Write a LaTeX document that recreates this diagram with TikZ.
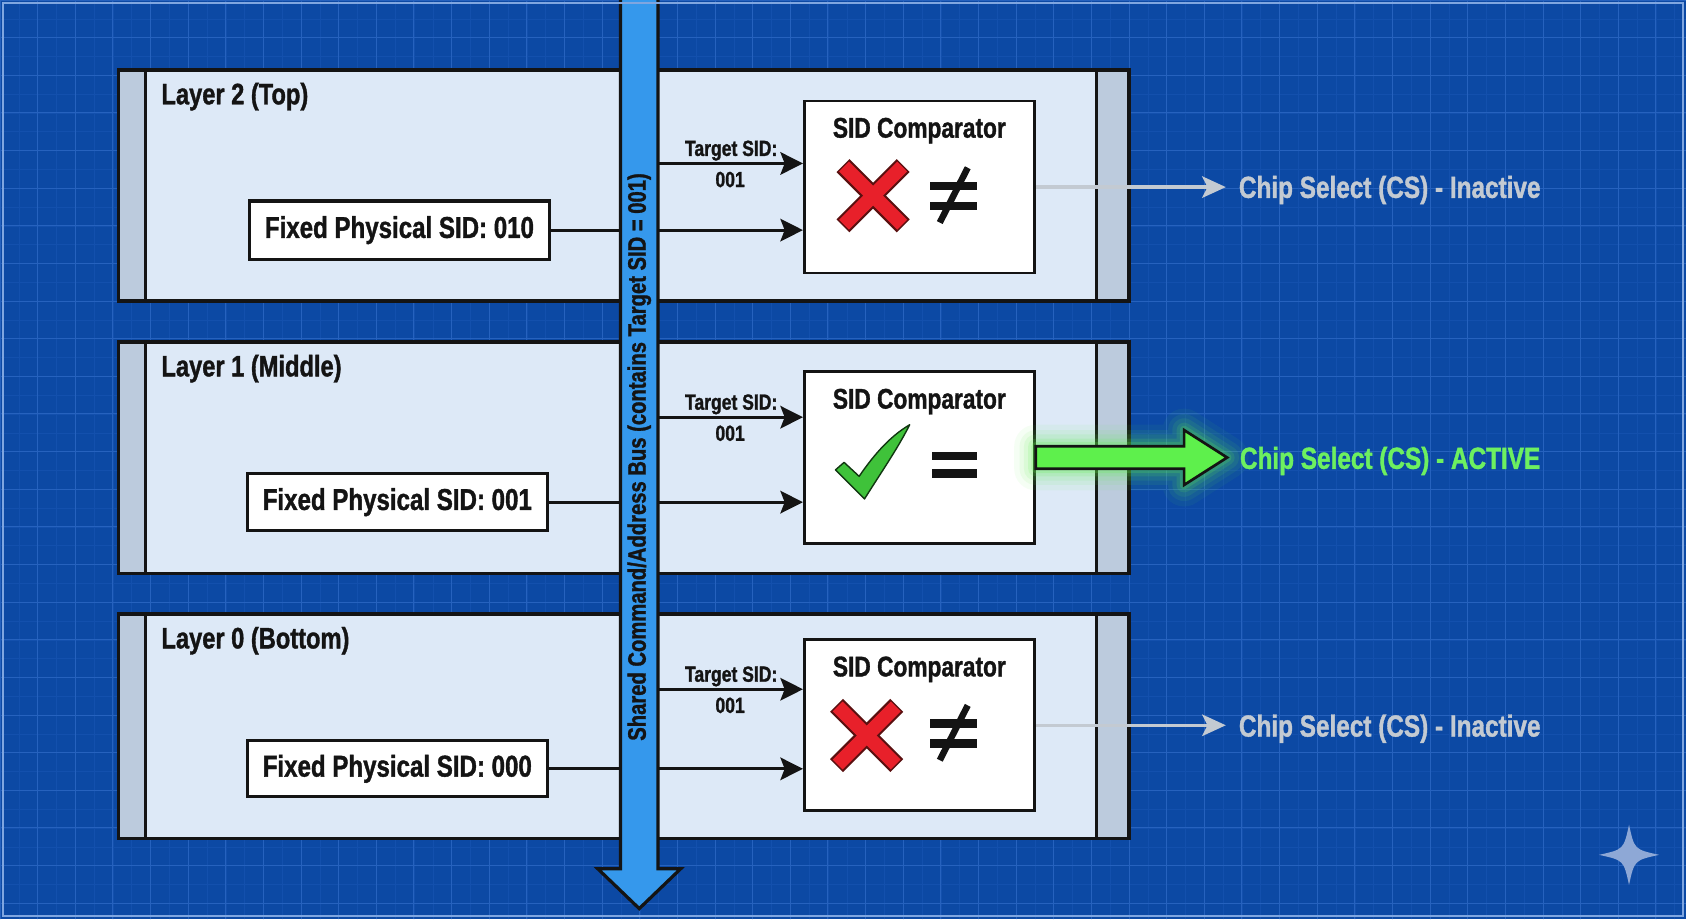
\documentclass[tikz,border=0pt]{standalone}
\usepackage{fontspec}
\setmainfont{Liberation Sans}[FakeStretch=0.8, BoldFeatures={FakeBold=1.2}]
\usetikzlibrary{arrows.meta,fit}
\definecolor{bgblue}{HTML}{0C49A4}
\definecolor{gridminor}{HTML}{1350AD}
\definecolor{gridmajor}{HTML}{2662BE}
\definecolor{framecol}{HTML}{7FA6E0}
\definecolor{layerfill}{HTML}{DDE9F7}
\definecolor{stripecol}{HTML}{BCCBDD}
\definecolor{busfill}{HTML}{3598EC}
\definecolor{ink}{HTML}{141414}
\definecolor{offgray}{HTML}{C3CAD2}
\definecolor{onGreen}{HTML}{5EF04C}
\definecolor{onText}{HTML}{6DF060}
\definecolor{xred}{HTML}{E8202A}
\definecolor{xdark}{HTML}{5A1010}
\definecolor{tickgreen}{HTML}{3FC23A}
\definecolor{starcol}{HTML}{8EA8D6}

\newcommand\chiplayer[4]{%
  \node[layerbg, fit={(110,#2) (1050,#3)}] (#1) {};
  \fill[stripe] (110,#2) rectangle (135,#3);
  \fill[stripe] (1020,#2) rectangle (1050,#3);
  \draw[heavy] (135,#2) -- (135,#3) (1020,#2) -- (1020,#3);
  \draw[heavy] (#1.north west) rectangle (#1.south east);
  \node[ltitle, anchor=base west] (#1t) at (150,#2+32) {#4};
}
\newcommand\redcross{%
  \draw[line width=17pt, color=xdark] (-28,-28) -- (28,28);
  \draw[line width=17pt, color=xdark] (28,-28) -- (-28,28);
  \draw[line width=13pt, color=xred, shorten <=1.4pt, shorten >=1.4pt] (-28,-28) -- (28,28);
  \draw[line width=13pt, color=xred, shorten <=1.4pt, shorten >=1.4pt] (28,-28) -- (-28,28);
}
\newcommand\neqsign{%
  \fill[ink] (-22,-13.2) rectangle (22,-5.4);
  \fill[ink] (-22,5.4) rectangle (22,13.2);
  \draw[ink, line width=6pt] (13,-26) -- (-13,25);
}
\newcommand\eqsign{%
  \fill[ink] (-21,-12) rectangle (21,-4);
  \fill[ink] (-21,4) rectangle (21,12.5);
}
\newcommand\greentick{%
  \filldraw[fill=tickgreen, draw=ink!85!green, line width=1.3pt, line join=round]
    (-35,7) -- (-27,0) -- (-13,13) .. controls (2,-9) and (17,-25) .. (34,-35)
    .. controls (23,-13) and (7,10) .. (-8,34) -- cycle;
}
\newcommand\greenpath{(0,-10.5) -- (138,-10.5) -- (138,-25.5) -- (178,0) -- (138,25.5) -- (138,10.5) -- (0,10.5) -- cycle}

\begin{document}
\begin{tikzpicture}[x=1pt,y=-1pt,
  layerbg/.style={fill=layerfill, inner sep=0pt, outer sep=0pt},
  stripe/.style={fill=stripecol},
  heavy/.style={draw=ink, line width=3pt},
  ltitle/.style={font=\fontsize{27.5}{32}\selectfont\bfseries, text=ink, inner sep=0pt},
  fixbox/.style={draw=ink, line width=3pt, fill=white, minimum width=279pt, minimum height=53pt, inner sep=0pt, font=\fontsize{28}{32}\selectfont\bfseries, text=ink},
  compbox/.style={draw=ink, line width=2.5pt, fill=white, minimum width=214pt, minimum height=160pt, inner sep=0pt},
  ctitle/.style={font=\fontsize{26.4}{30}\selectfont\bfseries, text=ink, inner sep=0pt},
  tlabel/.style={font=\fontsize{20.4}{24}\selectfont\bfseries, text=ink, inner sep=0pt},
  conn/.style={draw=ink, line width=2.6pt, -{Stealth[length=21pt,width=21pt,inset=4pt]}},
  offarrow/.style={draw=offgray, line width=3pt, -{Stealth[length=22pt,width=20pt,inset=5pt]}},
  cstext/.style={font=\fontsize{28.3}{32}\selectfont\bfseries, inner sep=0pt},
  bustext/.style={font=\fontsize{23.5}{28}\selectfont\bfseries, text=ink, inner sep=0pt, rotate=90}]

\useasboundingbox (0,0) rectangle (1568,855);
% background and grid
\fill[bgblue] (0,0) rectangle (1568,855);
\draw[gridminor, line width=0.5pt, step=17.5pt] (0,0) grid (1568,855);
\draw[gridmajor, line width=0.9pt, step=35pt] (0,0) grid (1568,855);

% layers
\chiplayer{L2}{65}{280}{Layer 2 (Top)}
\chiplayer{L1}{318}{533}{Layer 1 (Middle)}
\chiplayer{L0}{571}{780}{Layer 0 (Bottom)}

% fixed SID boxes
\node[fixbox, minimum height=54pt] (F2) at (371.5,214) {Fixed Physical SID: 010};
\node[fixbox] (F1) at (369.5,467) {Fixed Physical SID: 001};
\node[fixbox, minimum height=52pt] (F0) at (369.5,715) {Fixed Physical SID: 000};

% comparators
\node[compbox] (C2) at (855,174) {};
\node[compbox] (C1) at (855,425.5) {};
\node[compbox, minimum height=159pt] (C0) at (855,674.5) {};
\node[ctitle, anchor=base] (C2t) at (855,128) {SID Comparator};
\node[ctitle, anchor=base] (C1t) at (855,380) {SID Comparator};
\node[ctitle, anchor=base] (C0t) at (855,629) {SID Comparator};

% fixed -> comparator
\draw[conn] (F2.east) -- (F2.east -| C2.west);
\draw[conn] (F1.east) -- (F1.east -| C1.west);
\draw[conn] (F0.east) -- (F0.east -| C0.west);

% symbols
\begin{scope}[shift={(C2.center)}]
  \begin{scope}[shift={(-43,8)}]\redcross\end{scope}
  \begin{scope}[shift={(32,8)}]\neqsign\end{scope}
\end{scope}
\begin{scope}[shift={(C1.center)}]
  \begin{scope}[shift={(-43,4.5)}]\greentick\end{scope}
  \begin{scope}[shift={(33,6.5)}]\eqsign\end{scope}
\end{scope}
\begin{scope}[shift={(C0.center)}]
  \begin{scope}[shift={(-49,9.5)}]\redcross\end{scope}
  \begin{scope}[shift={(32,7.5)}]\neqsign\end{scope}
\end{scope}

% bus
\fill[busfill] (577,0) -- (577,808) -- (556,808) -- (594.5,845) -- (633,808) -- (612,808) -- (612,0) -- cycle;
\draw[ink, line width=3pt, line join=miter] (577,0) -- (577,808) -- (556,808) -- (594.5,845) -- (633,808) -- (612,808) -- (612,0);
\node[bustext] (BUS) at (594.5,425) {Shared Command/Address Bus (contains Target SID = 001)};

% target SID arrows from bus
\coordinate (T2) at (612,152);
\coordinate (T1) at (612,388);
\coordinate (T0) at (612,641);
\draw[conn] (T2) -- (T2 -| C2.west);
\draw[conn] (T1) -- (T1 -| C1.west);
\draw[conn] (T0) -- (T0 -| C0.west);
\node[tlabel, anchor=base] (T2a) at (680,145) {Target SID:};
\node[tlabel, anchor=base] (T2b) at (679,174) {001};
\node[tlabel, anchor=base] (T1a) at (680,381) {Target SID:};
\node[tlabel, anchor=base] (T1b) at (679,410) {001};
\node[tlabel, anchor=base] (T0a) at (680,634) {Target SID:};
\node[tlabel, anchor=base] (T0b) at (679,663) {001};

% outputs
\node[cstext, text=offgray, anchor=base west] (CS2) at (1152,184) {Chip Select (CS) - Inactive};
\node[cstext, text=offgray, anchor=base west] (CS0) at (1152,685) {Chip Select (CS) - Inactive};
\draw[offarrow, shorten >=12pt] (C2.east) -- (C2.east -| CS2.west);
\draw[offarrow, shorten >=12pt] (C0.east) -- (C0.east -| CS0.west);

\begin{scope}[shift={(C1.east)}]
  \foreach \w/\o in {40/0.06, 30/0.08, 22/0.1, 14/0.14, 8/0.2}
    \draw[onGreen, line width=\w pt, opacity=\o, line join=round] \greenpath;
  \fill[onGreen] \greenpath;
  \draw[ink, line width=2.5pt, line join=miter] \greenpath;
\end{scope}
\node[cstext, text=onText, anchor=base west] (CS1) at (1153,436) {Chip Select (CS) - ACTIVE};

% sparkle
\fill[starcol] (1515,767) .. controls (1520,790) .. (1543,795) .. controls (1520,800) .. (1515,823) .. controls (1510,800) .. (1487,795) .. controls (1510,790) .. (1515,767) -- cycle;

% frame
\draw[framecol, line width=2pt] (3,3) rectangle (1565,852);
\end{tikzpicture}
\end{document}
